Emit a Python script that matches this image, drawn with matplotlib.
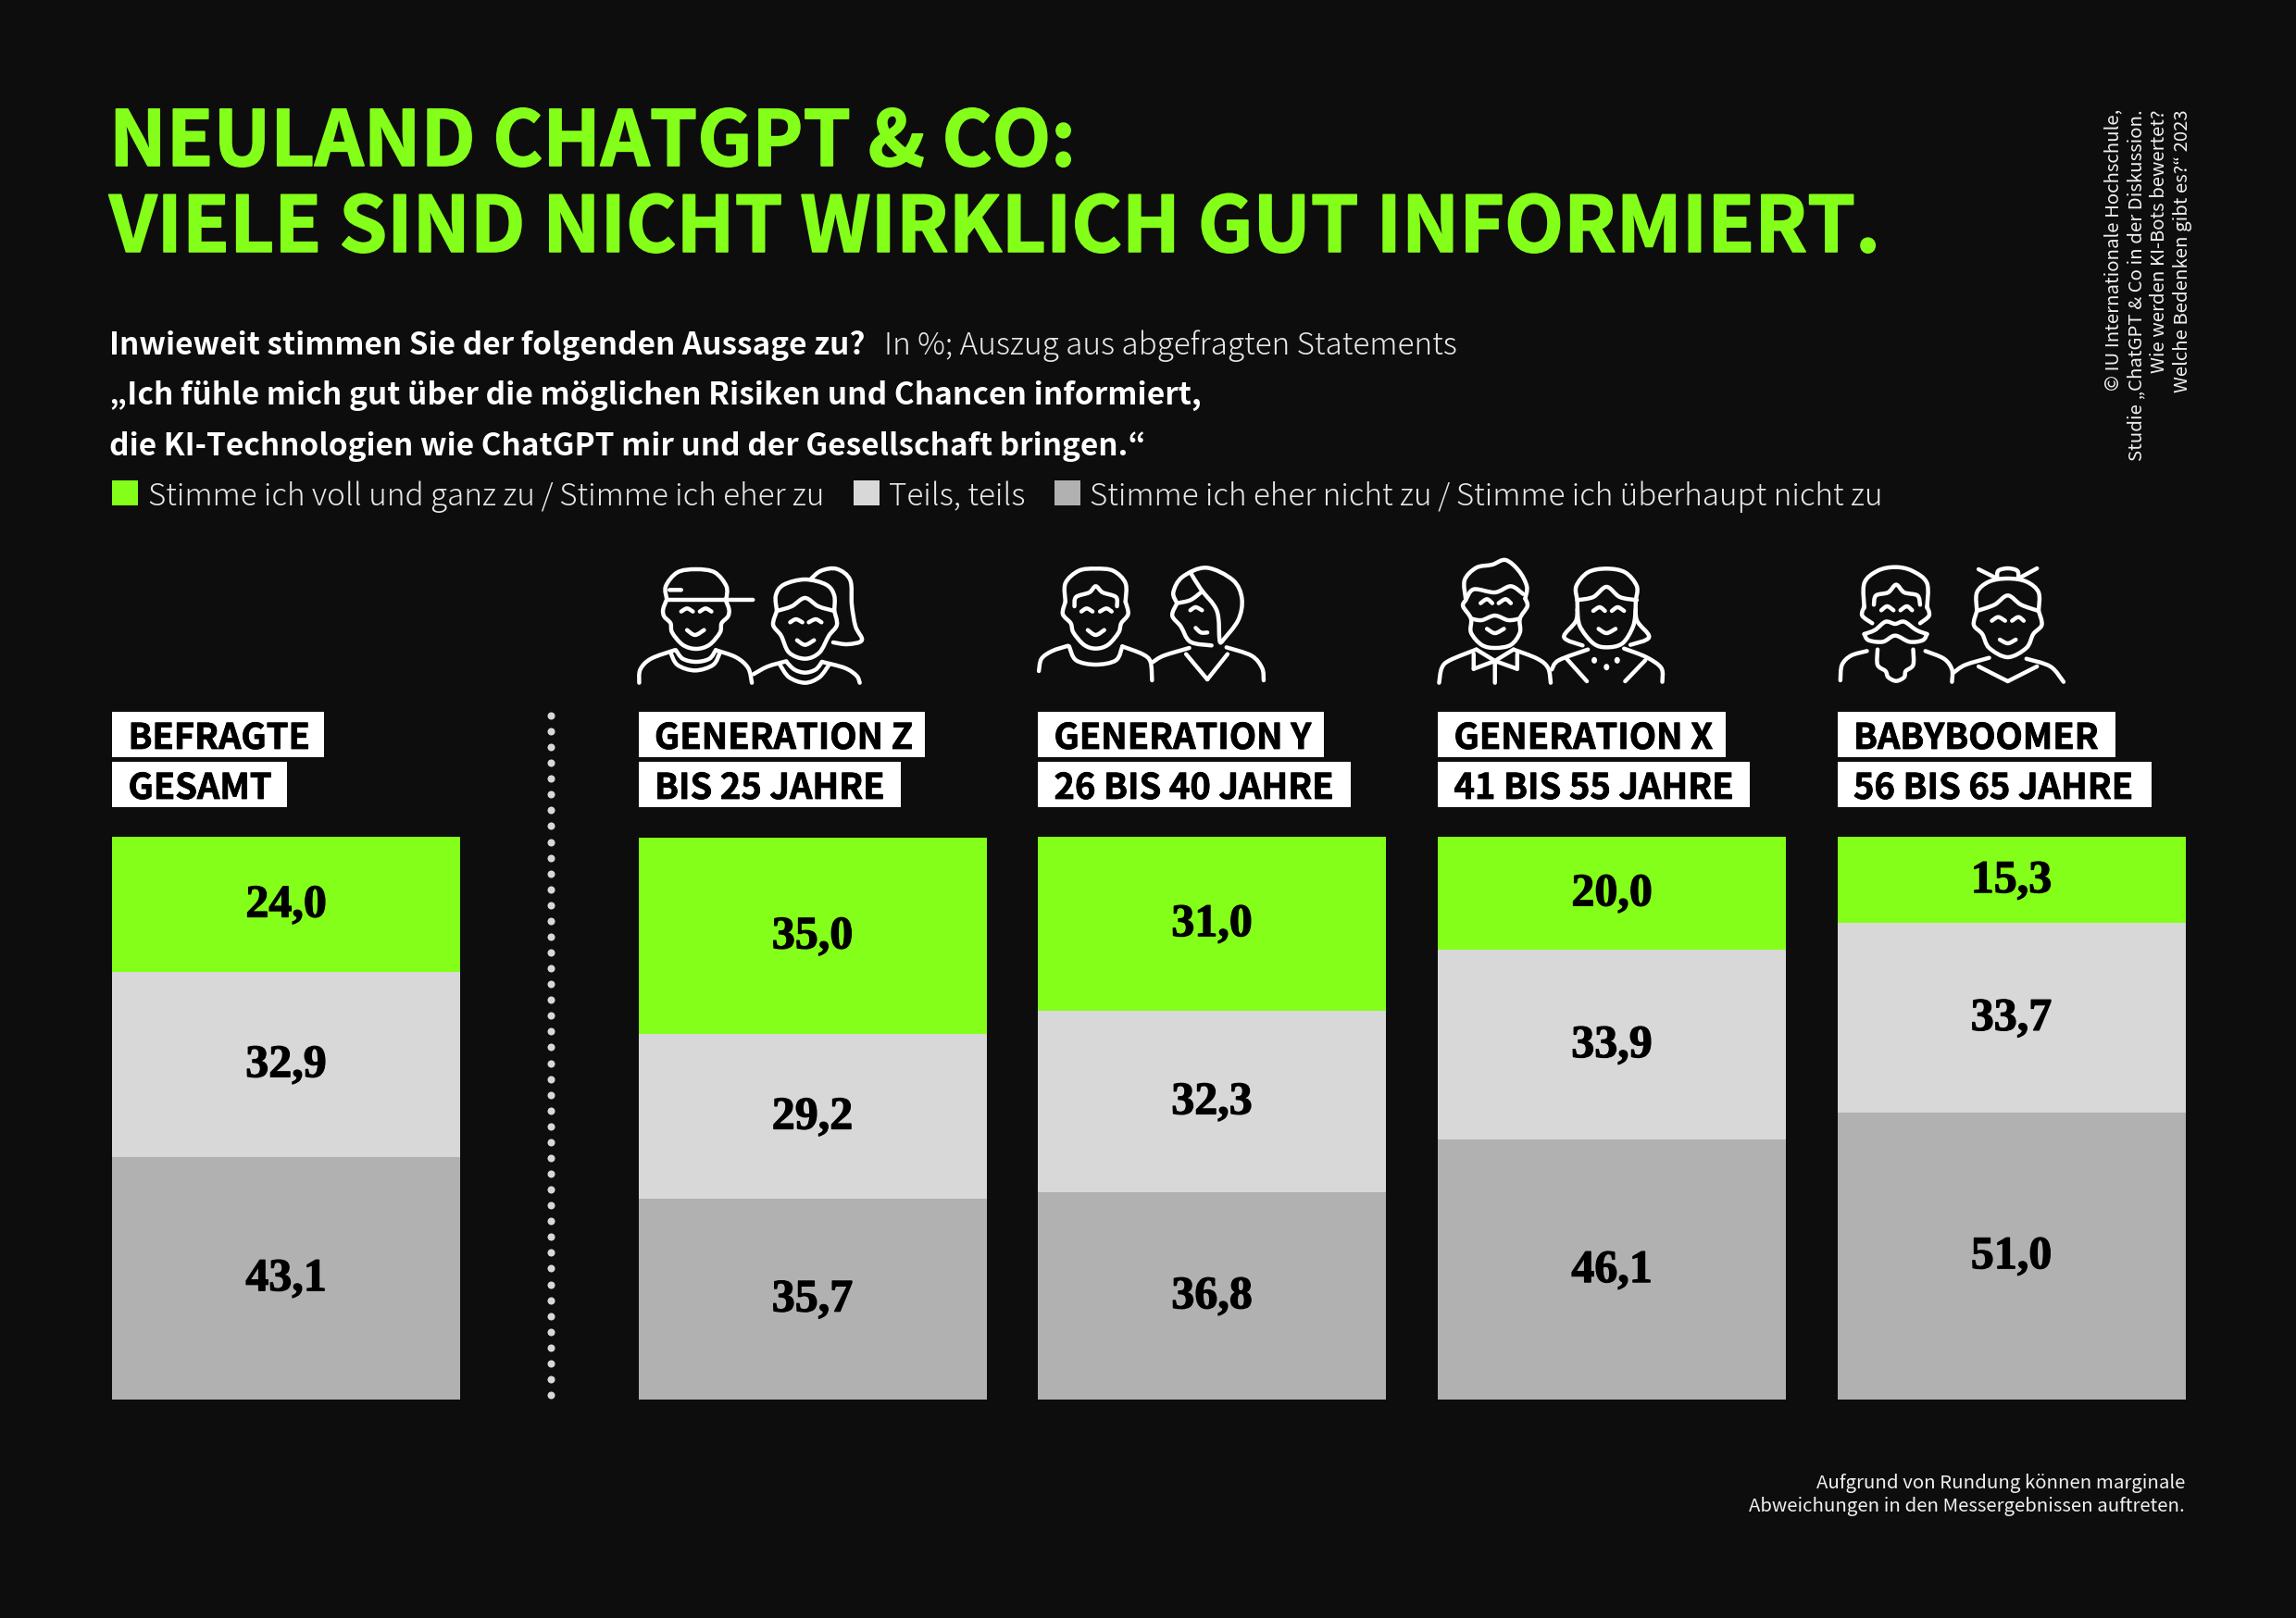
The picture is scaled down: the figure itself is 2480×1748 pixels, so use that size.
import numpy as np
import matplotlib
matplotlib.use("Agg")
import matplotlib.pyplot as plt
import matplotlib.patheffects as pe
from matplotlib.path import Path
from matplotlib.patches import PathPatch, Rectangle, Ellipse

BG = "#0d0d0d"
GREEN = "#84ff1a"
LIGHT = "#d8d8d8"
DARK = "#b1b1b1"
SANS = ["Noto Sans CJK JP", "DejaVu Sans"]
SERIF = ["Liberation Serif", "DejaVu Serif"]

W, H = 2480, 1748
BAR_TOP, BAR_BOTTOM = 904, 1511.5
BAR_W = 376

# data
groups = ["Gesamt", "Generation Z", "Generation Y", "Generation X", "Babyboomer"]
agree = [24.0, 35.0, 31.0, 20.0, 15.3]
partly = [32.9, 29.2, 32.3, 33.9, 33.7]
disagree = [43.1, 35.7, 36.8, 46.1, 51.0]

bar_left = [121, 689.5, 1121, 1553, 1984.5]
label_top = ["BEFRAGTE", "GENERATION Z", "GENERATION Y", "GENERATION X", "BABYBOOMER"]
label_bottom = ["GESAMT", "BIS 25 JAHRE", "26 BIS 40 JAHRE", "41 BIS 55 JAHRE", "56 BIS 65 JAHRE"]
box_top_right = [350, 999, 1430, 1864, 2285]
box_bottom_right = [310, 973, 1458.5, 1890, 2324]

source_lines = ["© IU Internationale Hochschule,",
                "Studie „ChatGPT & Co in der Diskussion.",
                "Wie werden KI-Bots bewertet?",
                "Welche Bedenken gibt es?“ 2023"]

# icon strokes (zoom coordinates)
icons_left = [
    # gen z boy
    [(105,172),(103,130),(125,85),(160,75),(195,85),(217,130),(217,172)],
    [(105,174),(267,174)],
    [(110,142),(132,142)],
    [(105,172),(98,205),(100,228),(112,250),(115,280),(135,320),(160,333),(185,320),(205,280),(208,250),(220,228),(222,205),(215,172)],
    [(132,212),(143,202),(154,212)], [(167,212),(178,202),(189,212)],
    [(143,272),(158,288),(175,272)],
    [(53,443),(55,400),(75,365),(120,337)],
    [(112,345),(125,385),(158,403),(192,385),(205,345)],
    [(122,337),(135,365),(160,375),(185,365),(197,337)],
    [(197,337),(235,360),(258,395),(265,443)],
    # gen z girl
    [(312,210),(310,160),(325,125),(365,108),(405,125),(420,160),(420,210)],
    [(312,210),(340,195),(365,168),(390,195),(420,210)],
    [(312,210),(305,255),(320,290),(335,345),(365,365),(392,345),(410,290),(425,255),(420,210)],
    [(337,247),(348,237),(360,247)], [(372,247),(385,237),(396,247)],
    [(350,305),(365,320),(382,305)],
    [(375,108),(395,80),(425,74),(450,110),(453,190),(460,260),(472,305),(445,318),(418,312)],
    [(268,415),(295,390),(330,373)],
    [(318,385),(335,425),(365,443),(392,425),(410,385)],
    [(330,375),(345,400),(365,410),(385,400),(397,375)],
    [(397,375),(440,395),(462,420),(468,443)],
    # gen y man
    [(855,180),(855,120),(880,80),(912,73),(945,80),(968,120),(968,180)],
    [(872,195),(875,165),(900,150),(912,130),(925,150),(950,165),(952,195)],
    [(855,180),(850,220),(865,250),(870,280),(890,320),(912,332),(935,320),(955,280),(960,250),(973,220),(968,180)],
    [(885,212),(895,202),(906,212)], [(920,212),(932,202),(942,212)],
    [(897,272),(912,288),(928,272)],
    [(805,405),(810,365),(830,340),(860,323)],
    [(862,325),(875,370),(912,384),(950,370),(962,325)],
    [(962,325),(1000,350),(1015,375),(1018,435)],
    # gen y woman
    [(1150,308),(1180,240),(1187,170),(1170,110),(1120,70),(1075,100),(1058,150),(1065,185)],
    [(1090,85),(1110,140),(1140,210),(1145,305),(1150,308)],
    [(1065,185),(1090,175),(1110,150)],
    [(1065,185),(1056,225),(1072,260),(1090,310),(1130,322)],
    [(1090,208),(1100,198),(1112,208)],
    [(1100,265),(1110,280),(1122,280)],
    [(1020,375),(1040,355),(1088,330)],
    [(1082,350),(1122,432)], [(1122,432),(1160,350)],
    [(1158,328),(1205,355),(1225,395),(1228,435)],
]
icons_right = [
    # gen x man
    [(110,170),(108,110),(130,70),(160,60),(185,45),(210,80),(225,130),(222,170)],
    [(110,175),(125,140),(165,150),(195,130),(218,155)],
    [(110,175),(105,195),(120,235),(120,280),(140,320),(165,330),(195,320),(212,280),(212,235),(226,195),(222,170)],
    [(120,235),(140,240),(165,225),(190,240),(212,235)],
    [(138,185),(150,172),(160,185)], [(172,185),(185,172),(195,185)],
    [(150,268),(165,282),(182,268)],
    [(60,443),(65,395),(80,370),(130,335)],
    [(130,335),(165,372)], [(165,372),(200,335)],
    [(125,350),(125,398)], [(125,398),(165,372)],
    [(165,372),(207,398)], [(207,398),(207,350)],
    [(165,372),(165,443)],
    [(200,335),(245,365),(265,395),(270,443)],
    # gen x woman
    [(320,175),(318,130),(340,85),(375,73),(410,85),(432,130),(430,175)],
    [(320,175),(350,165),(375,132),(400,165),(432,175)],
    [(320,205),(325,260),(350,315),(375,328),(405,315),(425,260),(430,205)],
    [(320,175),(318,240),(295,295),(330,322)],
    [(430,175),(432,240),(455,295),(420,320)],
    [(350,210),(362,198),(372,210)], [(385,210),(396,198),(408,210)],
    [(360,268),(375,282),(392,268)],
    [(272,400),(285,370),(340,335)],
    [(300,365),(338,438)],
    [(408,332),(450,360),(478,395),(480,440)],
    [(448,370),(410,438)],
    # boomer man
    [(860,200),(860,120),(885,80),(918,68),(950,80),(978,120),(978,200)],
    [(878,190),(882,160),(905,150),(920,125),(935,150),(960,160),(965,190)],
    [(860,195),(856,225),(875,250)], [(978,195),(982,225),(965,250)],
    [(860,285),(880,272),(900,245),(918,252),(935,245),(958,272),(978,285)],
    [(860,285),(868,305),(895,310),(918,290),(945,310),(970,305),(978,285)],
    [(892,208),(903,195),(915,208)], [(928,208),(940,195),(950,208)],
    [(885,335),(885,385),(900,405),(905,425),(920,437),(935,425),(938,405),(952,385),(952,335)],
    [(815,435),(818,385),(835,355),(865,340)],
    [(975,340),(1010,365),(1025,400),(1025,440)],
    # boomer woman
    [(1110,105),(1112,80),(1130,72),(1148,80),(1150,105)],
    [(1075,75),(1110,105)], [(1185,72),(1150,105)],
    [(1072,210),(1072,150),(1095,115),(1130,105),(1165,115),(1188,150),(1188,210)],
    [(1072,210),(1105,190),(1130,160),(1155,190),(1188,210)],
    [(1072,210),(1066,255),(1082,285),(1095,330),(1130,360),(1165,330),(1178,285),(1194,255),(1188,210)],
    [(1100,242),(1112,230),(1125,242)], [(1138,242),(1150,230),(1160,242)],
    [(1115,303),(1130,315),(1145,303)],
    [(1028,410),(1050,385),(1095,362)],
    [(1075,390),(1130,438)], [(1130,438),(1185,390)],
    [(1165,365),(1210,390),(1235,440)],
]


def stroke(ax, pts, ox):
  # catmull-rom through the traced points, zoom coords to pixels
  p = np.array(pts, dtype=float)
  p = np.column_stack((ox + p[:, 0] / 1.742, 590 + p[:, 1] / 3))
  q = np.vstack((p[0], p, p[-1]))
  verts = [p[0]]
  codes = [Path.MOVETO]
  for i in range(1, len(q) - 2):
    verts += [q[i] + (q[i + 1] - q[i - 1]) / 6, q[i + 1] - (q[i + 2] - q[i]) / 6, q[i + 1]]
    codes += [Path.CURVE4] * 3
  ax.add_patch(PathPatch(Path(verts, codes), fc="none", ec="white", lw=3.2,
                         capstyle="round", joinstyle="round"))


fig = plt.figure(figsize=(W / 100, H / 100), dpi=100, facecolor=BG)

# bars
ax = fig.add_axes([0, 1 - BAR_BOTTOM / H, 1, (BAR_BOTTOM - BAR_TOP) / H])
ax.set_xlim(0, W)
ax.set_ylim(0, 100)
ax.axis("off")
centers = np.array(bar_left) + BAR_W / 2
d = np.array(disagree)
p = np.array(partly)
a = np.array(agree)
ax.bar(centers, d, BAR_W, color=DARK)
ax.bar(centers, p, BAR_W, bottom=d, color=LIGHT)
ax.bar(centers, a, BAR_W, bottom=d + p, color=GREEN)
for vals, bottoms in ((d, 0 * d), (p, d), (a, d + p)):
  for x, v, b in zip(centers, vals, bottoms):
    t = ax.annotate(f"{v:.1f}".replace(".", ","), (x, b + v / 2), xytext=(0, -9.8),
                    textcoords="offset points", ha="center", va="baseline",
                    family=SERIF, weight="bold", fontsize=36, color="black")
    t.set_path_effects([pe.withStroke(linewidth=0.9, foreground="black")])

# everything else in pixel coordinates
ov = fig.add_axes([0, 0, 1, 1])
ov.set_xlim(0, W)
ov.set_ylim(H, 0)
ov.axis("off")
ov.patch.set_alpha(0)


def txt(x, y, s, size, weight="regular", color="white", heavy=0, **kw):
  t = ov.text(x, y, s, fontsize=size, weight=weight, color=color, family=SANS, va="baseline", **kw)
  if heavy:
    t.set_path_effects([pe.withStroke(linewidth=heavy, foreground=color)])


txt(118, 179, "NEULAND CHATGPT & CO:", 59.4, "bold", GREEN, heavy=1.2)
txt(118, 272, "VIELE SIND NICHT WIRKLICH GUT INFORMIERT.", 59.9, "bold", GREEN, heavy=1.2)

txt(118, 383, "Inwieweit stimmen Sie der folgenden Aussage zu?", 24, "bold")
txt(955, 383, "In %; Auszug aus abgefragten Statements", 24, "light", "#e8e8e8")
txt(118, 437, "„Ich fühle mich gut über die möglichen Risiken und Chancen informiert,", 24.1, "bold")
txt(118, 492, "die KI-Technologien wie ChatGPT mir und der Gesellschaft bringen.“", 24, "bold")

for x, c in ((121, GREEN), (922, LIGHT), (1139, DARK)):
  ov.add_patch(Rectangle((x, 519), 28, 27, fc=c, ec="none"))
txt(160, 546, "Stimme ich voll und ganz zu\u2009/\u2009Stimme ich eher zu", 23.9, "light", "#e8e8e8")
txt(960, 546, "Teils, teils", 23.9, "light", "#e8e8e8")
txt(1177, 546, "Stimme ich eher nicht zu\u2009/\u2009Stimme ich überhaupt nicht zu", 23.9, "light", "#e8e8e8")

for i, line in enumerate(source_lines):
  ov.text(2288 + i * 25, 118, line, rotation=90, rotation_mode="anchor", ha="right",
          va="baseline", fontsize=14.7, color="#f0f0f0", family=SANS)

txt(2360, 1608, "Aufgrund von Rundung können marginale", 14.7, ha="right", color="#f0f0f0")
txt(2360, 1633, "Abweichungen in den Messergebnissen auftreten.", 14.7, ha="right", color="#f0f0f0")

# group labels on white boxes
for left, r1, r2, t1, t2 in zip(bar_left, box_top_right, box_bottom_right, label_top, label_bottom):
  ov.add_patch(Rectangle((left, 769), r1 - left, 49, fc="white", ec="none"))
  ov.add_patch(Rectangle((left, 823), r2 - left, 49, fc="white", ec="none"))
  txt(left + 17.5, 809, t1, 27.4, "bold", "black", heavy=0.6)
  txt(left + 17.5, 863, t2, 27.4, "bold", "black", heavy=0.6)

# dotted separator
ov.plot(np.full(44, 594.7), np.arange(44) * 17.07 + 773, ls="none", marker="o", ms=5.8,
        mfc=LIGHT, mec="none")

for s in icons_left:
  stroke(ov, s, 660)
for s in icons_right:
  stroke(ov, s, 1520)
for zx, zy in ((352, 370), (395, 370), (375, 392)):
  ov.add_patch(Ellipse((1520 + zx / 1.742, 590 + zy / 3), 6, 7, fc="white", ec="none"))

fig.savefig("out.png", dpi=100, facecolor=BG)
